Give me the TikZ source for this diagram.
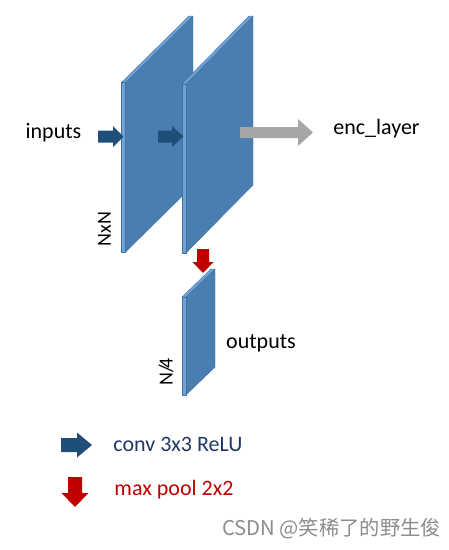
\documentclass[tikz,border=0pt]{standalone}
\usepackage{fontspec}
\setmainfont{Carlito}
\newfontfamily\cjkfont{Noto Sans CJK SC}
\usetikzlibrary{positioning}
\definecolor{faceblue}{RGB}{74,126,177}
\definecolor{edgeblue}{RGB}{110,162,216}
\definecolor{lineblue}{RGB}{65,113,156}
\definecolor{convblue}{RGB}{31,78,121}
\definecolor{convtext}{RGB}{31,56,100}
\definecolor{poolred}{RGB}{192,0,0}
\definecolor{outgray}{RGB}{166,166,166}
\tikzstyle{label} = [inner sep=0pt, font=\fontsize{22}{26}\selectfont]
\tikzstyle{size} = [inner sep=0pt, rotate=90, font=\fontsize{20}{24}\selectfont]
\tikzstyle{facefill} = [fill=faceblue, draw=lineblue, line width=0.4pt, line join=round]
\tikzstyle{edgefill} = [fill=edgeblue, draw=lineblue, line width=0.4pt, line join=round]

% panel: left x, top y, bottom y, right x, top right y, depth
\newcommand{\panel}[6]{
  \fill[facefill] (#1+4,#2) -- (#4,#5) -- (#4,#3-#2+#5+#6) -- (#1+4,#3) -- cycle;
  \fill[edgefill] (#1,#2) -- (#4-4,#5) -- (#4,#5) -- (#1+4,#2) -- cycle;
  \fill[edgefill] (#1,#2) -- (#1+4,#2) -- (#1+4,#3) -- (#1,#3) -- cycle;
}
% right arrow: colour, tail x, head x, tip x, centre y, shaft half, head half
\newcommand{\rarrow}[7]{
  \fill[#1] (#2,#5-#6) -- (#3,#5-#6) -- (#3,#5-#7) -- (#4,#5) -- (#3,#5+#7)
    -- (#3,#5+#6) -- (#2,#5+#6) -- cycle;
}
% down arrow: colour, tail y, head y, tip y, centre x, shaft half, head half
\newcommand{\darrow}[7]{
  \fill[#1] (#5-#6,#2) -- (#5-#6,#3) -- (#5-#7,#3) -- (#5,#4) -- (#5+#7,#3)
    -- (#5+#6,#3) -- (#5+#6,#2) -- cycle;
}

\begin{document}
\begin{tikzpicture}[x=1pt, y=-1pt]
\useasboundingbox (0,0) rectangle (449,550);

% layers
\panel{121.5}{82.5}{252}{193}{16}{0}
\panel{182}{84}{253}{253}{16}{0}
\panel{182}{297}{395}{215}{269}{0}

% arrows
\rarrow{convblue}{98}{113}{123.5}{136.5}{6}{10.5}
\rarrow{convblue}{158}{172}{183.5}{136.5}{6}{10.5}
\rarrow{outgray}{240}{298}{313}{132.5}{5.5}{13.5}
\darrow{poolred}{249}{262}{273}{203}{6}{10.5}

% texts
\node (inputs) [label] at (53.5,133) {inputs};
\node (enc) [label] at (376.5,129) {enc\_layer};
\node (outputs) [label] at (261,343) {outputs};
\node (nxn) [size] at (104.5,229) {NxN};
\node (nq) [size] at (166,372) {N/\kern-0.15em4};

% legend
\rarrow{convblue}{61}{77}{92}{445}{7}{12.5}
\darrow{poolred}{477}{493}{507}{75}{7}{13.5}
\node (conv) [label, text=convtext] at (178,444) {conv 3x3 ReLU};
\node (pool) [label, text=poolred] at (174,490) {max pool 2x2};

\node (mark) [inner sep=0pt, text=black!45, font=\cjkfont\fontsize{20.3}{24}\selectfont] at (331.5,529) {CSDN @笑稀了的野生俊};
\end{tikzpicture}
\end{document}
